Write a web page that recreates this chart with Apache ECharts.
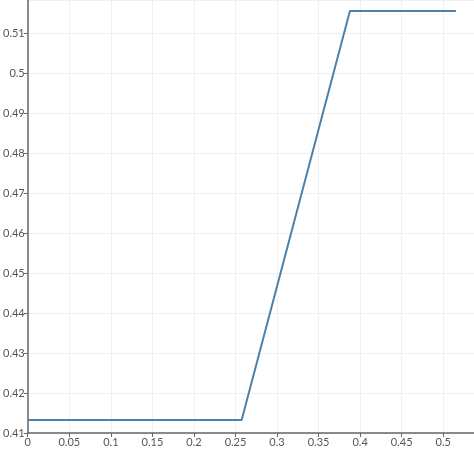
<!DOCTYPE html>
<html>
<head>
<meta charset="utf-8">
<script src="https://cdn.jsdelivr.net/npm/echarts@6/dist/echarts.min.js"></script>
<style>
  html, body { margin: 0; padding: 0; background: #fff; }
  #chart { width: 474px; height: 453px; }
</style>
</head>
<body>
<div id="chart"></div>
<script>
// values
var xValues = [0, 0.2574, 0.3877, 0.5152];
var yValues = [0.41325, 0.41325, 0.5155, 0.5155];

var points = [];
for (var i = 0; i < xValues.length; i++) {
  points.push([xValues[i], yValues[i]]);
}

var chart = echarts.init(document.getElementById('chart'));
var labelStyle = { color: '#555', fontSize: 11, fontFamily: 'Lato, sans-serif' };

chart.setOption({
  animation: false,
  grid: { left: 26, right: 0, top: 0, bottom: 20, containLabel: false },
  xAxis: {
    type: 'value',
    min: 0,
    max: 0.537,
    interval: 0.05,
    axisLine: { show: true, lineStyle: { color: '#666', width: 1.5 } },
    axisTick: { show: true, length: 4, lineStyle: { color: '#666' } },
    axisLabel: Object.assign({ margin: 4, showMaxLabel: false }, labelStyle),
    splitLine: { show: true, lineStyle: { color: '#f0f0f0' } }
  },
  yAxis: {
    type: 'value',
    min: 0.41,
    max: 0.51825,
    interval: 0.01,
    axisLine: { show: true, lineStyle: { color: '#666', width: 1.5 } },
    axisTick: { show: true, length: 4, lineStyle: { color: '#666' } },
    axisLabel: Object.assign({ margin: 3, showMaxLabel: false }, labelStyle),
    splitLine: { show: true, lineStyle: { color: '#f0f0f0' } }
  },
  series: [{
    type: 'line',
    data: points,
    symbol: 'none',
    lineStyle: { color: '#4f81a8', width: 2 },
    itemStyle: { color: '#4f81a8' }
  }]
});
</script>
</body>
</html>
